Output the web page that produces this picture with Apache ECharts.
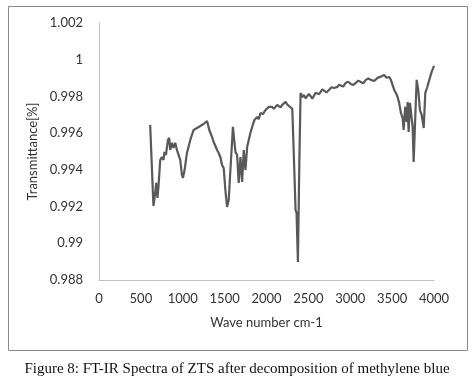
<!DOCTYPE html>
<html>
<head>
<meta charset="utf-8">
<script src="https://cdn.jsdelivr.net/npm/echarts@6/dist/echarts.min.js"></script>
<style>
html,body{margin:0;padding:0;background:#fff;}
#chart{width:474px;height:382px;}
</style>
</head>
<body>
<div id="chart"></div>
<script>
const wavenumbers = [611,650,671,683,698,710,731,751,770,782,799,823,838,850,871,890,910,931,950,970,990,1002,1022,1050,1090,1129,1170,1210,1230,1249,1270,1290,1317,1341,1369,1389,1410,1429,1449,1469,1489,1509,1529,1549,1569,1599,1629,1649,1668,1689,1709,1728,1749,1769,1788,1808,1829,1856,1889,1908,1928,1958,1988,2008,2028,2048,2068,2088,2108,2128,2147,2168,2188,2208,2228,2248,2267,2308,2327,2347,2359,2375,2392,2407,2428,2447,2467,2487,2507,2527,2547,2566,2587,2607,2627,2647,2666,2686,2716,2746,2776,2806,2826,2847,2866,2886,2916,2946,2976,3006,3036,3066,3096,3126,3156,3186,3216,3246,3286,3326,3366,3405,3430,3465,3485,3505,3525,3545,3565,3584,3605,3625,3637,3656,3673,3685,3697,3713,3725,3745,3757,3772,3793,3812,3832,3853,3877,3896,3916,3944,3972,4000];
const transmittance = [0.99645,0.99203,0.99274,0.99329,0.99247,0.99307,0.99454,0.99470,0.99454,0.99498,0.99481,0.99563,0.99574,0.99508,0.99547,0.99519,0.99547,0.99508,0.99498,0.99454,0.99372,0.99356,0.99399,0.99492,0.99563,0.99617,0.99628,0.99639,0.99630,0.99650,0.99646,0.99666,0.99617,0.99590,0.99552,0.99547,0.99508,0.99492,0.99470,0.99427,0.99410,0.99290,0.99198,0.99236,0.99399,0.99634,0.99498,0.99481,0.99329,0.99470,0.99334,0.99508,0.99399,0.99525,0.99563,0.99601,0.99634,0.99672,0.99688,0.99676,0.99710,0.99704,0.99726,0.99718,0.99743,0.99734,0.99743,0.99732,0.99743,0.99754,0.99748,0.99740,0.99754,0.99762,0.99770,0.99756,0.99748,0.99732,0.99470,0.99181,0.99165,0.98898,0.99438,0.99819,0.99797,0.99808,0.99790,0.99792,0.99814,0.99808,0.99788,0.99797,0.99820,0.99825,0.99812,0.99825,0.99838,0.99830,0.99822,0.99835,0.99850,0.99846,0.99838,0.99852,0.99864,0.99863,0.99854,0.99874,0.99880,0.99868,0.99862,0.99874,0.99886,0.99879,0.99872,0.99890,0.99898,0.99890,0.99884,0.99901,0.99908,0.99917,0.99902,0.99906,0.99890,0.99863,0.99835,0.99819,0.99797,0.99765,0.99710,0.99683,0.99617,0.99743,0.99661,0.99770,0.99607,0.99765,0.99770,0.99634,0.99443,0.99634,0.99890,0.99835,0.99726,0.99699,0.99628,0.99819,0.99846,0.99890,0.99934,0.99966];
const xTickLabels = ['0','500','1000','1500','2000','2500','3000','3500','4000'];
const yTickLabels = ['0.988','0.99','0.992','0.994','0.996','0.998','1','1.002'];
const xTitle = 'Wave number cm-1';
const yTitle = 'Transmittance[%]';
const caption = 'Figure 8: FT-IR Spectra of ZTS after decomposition of methylene blue';

const points = wavenumbers.map((w, i) => [w, transmittance[i]]);
const labelFont = 'Lato, "Open Sans", sans-serif';
const axisGray = '#c0c0c0';

const chart = echarts.init(document.getElementById('chart'), null, {renderer: 'canvas'});
chart.setOption({
  animation: false,
  backgroundColor: '#ffffff',
  grid: {left: 99, right: 40, top: 23, bottom: 102, containLabel: false},
  xAxis: {
    type: 'value',
    min: 0, max: 4000, interval: 500,
    axisLine: {show: true, lineStyle: {color: axisGray, width: 1}},
    axisTick: {show: false},
    splitLine: {show: false},
    axisLabel: {
      color: '#333', fontFamily: labelFont, fontSize: 13, margin: 12,
      formatter: function (v) {
        const idx = Math.round(v / 500);
        return xTickLabels[idx] !== undefined ? xTickLabels[idx] : '';
      }
    },
    name: xTitle, nameLocation: 'middle', nameGap: 36,
    nameTextStyle: {color: '#333', fontFamily: labelFont, fontSize: 13}
  },
  yAxis: {
    type: 'value',
    min: 0.988, max: 1.002, interval: 0.002,
    axisLine: {show: true, lineStyle: {color: axisGray, width: 1}},
    axisTick: {show: false},
    splitLine: {show: false},
    axisLabel: {
      color: '#333', fontFamily: labelFont, fontSize: 13, margin: 16,
      formatter: function (v) {
        const idx = Math.round((v - 0.988) / 0.002);
        return yTickLabels[idx] !== undefined ? yTickLabels[idx] : '';
      }
    },
    name: yTitle, nameLocation: 'middle', nameGap: 53, nameRotate: 90,
    nameTextStyle: {color: '#333', fontFamily: labelFont, fontSize: 13}
  },
  series: [{
    type: 'line',
    data: points,
    showSymbol: false,
    symbol: 'none',
    lineStyle: {color: '#595959', width: 2.2},
    z: 3
  }],
  graphic: [
    {type: 'rect', shape: {x: 8.5, y: 6.5, width: 459, height: 344},
     style: {fill: null, stroke: '#8c8c8c', lineWidth: 1}, z: -1},
    {type: 'text', left: 'center', top: 362,
     style: {text: caption, font: '15px "Liberation Serif", "Times New Roman", serif', fill: '#111'}}
  ]
});
</script>
</body>
</html>
